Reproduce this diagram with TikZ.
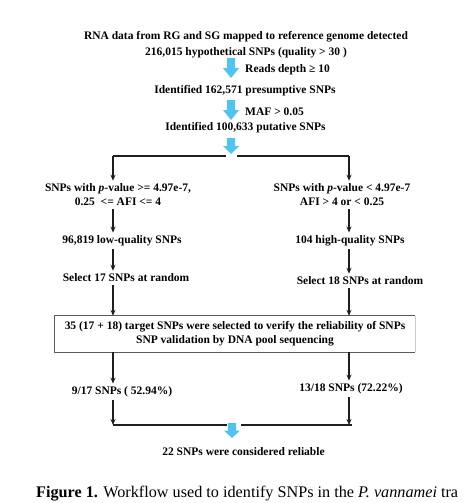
\documentclass[tikz,border=0pt]{standalone}
\usepackage{fontspec}
\setmainfont{Liberation Serif}
\usetikzlibrary{arrows.meta}
\definecolor{arrowblue}{RGB}{80,196,240}
\definecolor{linegray}{RGB}{30,30,30}
\definecolor{boxgray}{RGB}{90,90,90}
\begin{document}
\begin{tikzpicture}[x=1pt,y=-1pt,
  txt/.style={font=\bfseries\fontsize{11.5}{14}\selectfont, inner xsep=0pt, inner ysep=3pt, align=center},
  arr/.style={-{Stealth[length=6pt,width=5pt]}, line width=1.3pt, draw=linegray},
  ln/.style={line width=1.3pt, draw=linegray},
  pics/barrow/.style={code={\fill[arrowblue] (-4,0) -- (4,0) -- (4,#1*0.5) -- (8,#1*0.5) -- (0,#1) -- (-8,#1*0.5) -- (-4,#1*0.5) -- cycle;}}]
\useasboundingbox (0,0) rectangle (474,503);

% top chain
\node[txt, font=\bfseries\fontsize{11.5}{16}\selectfont] (top) at (246,45) {RNA data from RG and SG mapped to reference genome detected\\216,015 hypothetical SNPs (quality > 30 )};
\pic at (231,58) {barrow=20};
\node[txt, anchor=west] (c1) at (245,70) {Reads depth ≥ 10};
\node[txt] (n2) at (245,91) {Identified 162,571 presumptive SNPs};
\pic at (231,100) {barrow=20};
\node[txt, anchor=west] (c2) at (245,112) {MAF > 0.05};
\node[txt] (n3) at (245.5,128) {Identified 100,633 putative SNPs};
\pic at (231,138) {barrow=16};

% split
\coordinate (sL) at (113,156);
\coordinate (sR) at (349,156);
\coordinate (gL) at (226,156);
\coordinate (gR) at (237,156);
\draw[ln] (gL) -- (sL);
\draw[ln] (gR) -- (sR);

% left column
\node[txt] (low1) at (118,195) {SNPs with \textit{p}-value >= 4.97e-7,\\0.25 \ <= AFI <= 4};
\node[txt] (lowq) at (122,241) {96,819 low-quality SNPs};
\node[txt] (sel1) at (126,278) {Select 17 SNPs at random};
% right column
\node[txt] (high1) at (342,195) {SNPs with \textit{p}-value < 4.97e-7\\AFI > 4 or < 0.25};
\node[txt] (highq) at (350,241) {104 high-quality SNPs};
\node[txt] (sel2) at (360,281) {Select 18 SNPs at random};

\draw[arr] (sL) -- (low1.north -| sL);
\draw[arr] (sR) -- (high1.north -| sR);
\draw[arr] (low1.south -| sL) -- (lowq.north -| sL);
\draw[arr] (high1.south -| sR) -- (highq.north -| sR);
\draw[arr] (lowq.south -| sL) -- (sel1.north -| sL);
\draw[arr] (highq.south -| sR) -- (sel2.north -| sR);

% box
\node[txt, minimum width=360pt, minimum height=36pt, inner ysep=0pt, font=\bfseries\fontsize{11.5}{14}\selectfont] (box) at (235,334) {35 (17 + 18) target SNPs were selected to verify the reliability of SNPs\\SNP validation by DNA pool sequencing};
\draw[line width=1pt, boxgray] (box.north east) -- (box.north west) -- (box.south west) -- (box.south east);
\draw[line width=0.6pt, black!20] (box.north east) -- (box.south east);

\draw[arr] (sel1.south -| sL) -- (box.north -| sL);
\draw[arr] (sel2.south -| sR) -- (box.north -| sR);

% results
\node[txt] (res1) at (122,392) {9/17 SNPs ( 52.94\%)};
\node[txt] (res2) at (351,389) {13/18 SNPs (72.22\%)};
\draw[arr] (box.south -| sL) -- (res1.north -| sL);
\draw[arr] (box.south -| sR) -- (res2.north -| sR);

% merge
\coordinate (mL) at (113,425);
\coordinate (mR) at (352,425);
\coordinate (hL) at (227,425);
\coordinate (hR) at (241,425);
\draw[arr] (res1.south -| mL) -- (mL);
\draw[arr] (res2.south -| sR) -- (sR |- mL);
\draw[ln] (mL) -- (hL);
\draw[ln] (hR) -- (mR);
\pic at (232,423) {barrow=15};

\node[txt] (final) at (243.5,452) {22 SNPs were considered reliable};

% caption
\node[anchor=base west, inner sep=0pt, font=\fontsize{16.2}{19}\selectfont] (cap) at (36,497) {\textbf{Figure 1.} Workflow used to identify SNPs in the \textit{P.~vannamei} tra};
\end{tikzpicture}
\end{document}
